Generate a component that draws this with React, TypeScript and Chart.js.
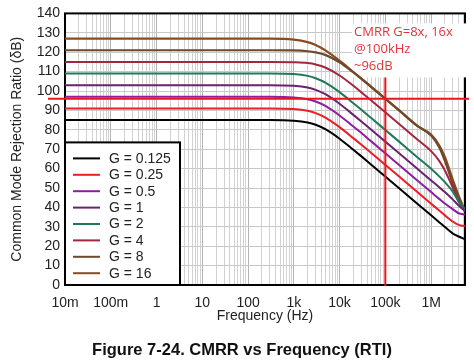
import React, { useEffect, useRef } from "react";
import { Chart, registerables } from "chart.js";
Chart.register(...registerables);

// ---------- data ----------
const FREQ = [0.01, 0.1, 1, 10, 100, 300, 1000, 2000, 3000, 5000, 10000, 20000, 30000, 50000, 100000, 200000, 500000, 1000000, 1500000, 2000000, 3000000, 4000000, 5500000];

const G_0125 = [85, 85, 85, 85, 85, 85, 84.7, 83.8, 82.6, 80.2, 75.4, 69.7, 66.3, 61.9, 55.9, 49.9, 41.9, 35.9, 32.4, 29.9, 26.5, 25, 23.5];
const G_025 = [91, 91, 91, 91, 91, 91, 90.7, 89.8, 88.6, 86.2, 81.4, 75.7, 72.3, 67.9, 61.9, 55.9, 47.9, 41.9, 38.4, 35.9, 32.6, 31, 30.3];
const G_05 = [97, 97, 97, 97, 97, 97, 96.7, 95.8, 94.6, 92.2, 87.4, 81.7, 78.3, 73.9, 67.9, 61.9, 53.9, 47.9, 44.4, 42, 39, 37, 36.3];
const G_1 = [103, 103, 103, 103, 103, 103, 102.7, 101.8, 100.6, 98.2, 93.4, 87.7, 84.3, 79.9, 73.9, 67.9, 59.9, 53.9, 50.4, 47.9, 44, 41, 38];
const G_2 = [109, 109, 109, 109, 109, 109, 108.7, 107.8, 106.6, 104.2, 99.4, 93.7, 90.3, 85.9, 79.9, 73.9, 65.9, 59.9, 56, 53, 48, 43, 39];
const G_4 = [115, 115, 115, 115, 115, 115, 114.8, 114.4, 113.7, 112, 108, 102.7, 99.3, 95, 89, 83, 75, 69, 64, 59, 50, 43, 38];
const G_8 = [121, 121, 121, 121, 121, 121, 120.9, 120.5, 119.9, 118.5, 114.8, 109.6, 106.3, 101.9, 96, 90, 82, 77, 71, 64, 52, 45, 38];
const G_16 = [127, 127, 127, 127, 127, 127, 126.5, 125.2, 123.7, 120.8, 115.6, 109.8, 106.4, 102, 96, 90, 82, 77.5, 72, 66, 54, 46, 38];

const SERIES = [G_0125, G_025, G_05, G_1, G_2, G_4, G_8, G_16];
const SERIES_LABELS = ["G = 0.125", "G = 0.25", "G = 0.5", "G = 1", "G = 2", "G = 4", "G = 8", "G = 16"];
const SERIES_COLORS = ["#000000", "#ee1c25", "#8e1e9e", "#6a2270", "#1f7a5c", "#a3263f", "#6e4a2a", "#8a4b22"];

const X_TICK_VALUES = [0.01, 0.1, 1, 10, 100, 1000, 10000, 100000, 1000000];
const X_TICK_LABELS = ["10m", "100m", "1", "10", "100", "1k", "10k", "100k", "1M"];
const X_MIN = 0.01;
const X_MAX = 5500000;
const Y_MIN = 0;
const Y_MAX = 140;
const Y_STEP = 10;

const CURSOR_FREQ = 100000;
const CURSOR_DB = 96;
const NOTE_LINES = ["CMRR G=8x, 16x", "@100kHz", "~96dB"];
const Y_TITLE = "Common Mode Rejection Ratio (δB)";
const X_TITLE = "Frequency (Hz)";
const CAPTION = "Figure 7-24. CMRR vs Frequency (RTI)";

const FONT = "'Liberation Sans', Arial, sans-serif";
const RED = "#e8161e";

function isNear(a: number, b: number) {
  return Math.abs(a - b) <= Math.abs(b) * 1e-6;
}

export default function App() {
  const ref = useRef<HTMLCanvasElement | null>(null);

  useEffect(() => {
    const canvas = ref.current;
    if (!canvas) return;

    const overlay = {
      id: "overlay",
      beforeDatasetsDraw(chart: any) {
        const { ctx, chartArea: a } = chart;
        ctx.save();
        ctx.strokeStyle = "#000";
        ctx.lineWidth = 2;
        ctx.strokeRect(a.left, a.top, a.right - a.left, a.bottom - a.top);
        ctx.fillStyle = "#fff";
        ctx.fillRect(a.right - 113, a.top + 10, 117, 54);
        ctx.restore();
      },
      afterDatasetsDraw(chart: any) {
        const { ctx, chartArea: a, scales } = chart;
        const xs = scales.x;
        const ys = scales.y;
        ctx.save();
        const cx = xs.getPixelForValue(CURSOR_FREQ);
        const cy = ys.getPixelForValue(CURSOR_DB);
        ctx.strokeStyle = RED;
        ctx.lineWidth = 2;
        ctx.beginPath();
        ctx.moveTo(a.left - 17, cy);
        ctx.lineTo(a.right + 4, cy);
        ctx.moveTo(cx, a.top + 64);
        ctx.lineTo(cx, a.bottom + 1);
        ctx.stroke();

        ctx.fillStyle = "#e6333b";
        ctx.font = "13px 'Open Sans', 'Noto Sans', sans-serif";
        ctx.textAlign = "left";
        ctx.textBaseline = "middle";
        NOTE_LINES.forEach((t, i) => {
          ctx.fillText(t, a.right - 111, a.top + 19 + i * 17);
        });

        const lx = a.left;
        const ly = a.top + 129;
        const lw = 115;
        const lh = a.bottom - ly;
        ctx.fillStyle = "#fff";
        ctx.fillRect(lx, ly, lw, lh);
        ctx.strokeStyle = "#000";
        ctx.lineWidth = 2;
        ctx.strokeRect(lx, ly, lw, lh);
        ctx.font = `14px ${FONT}`;
        ctx.textBaseline = "middle";
        chart.data.datasets.forEach((ds: any, i: number) => {
          const y = ly + 16 + i * 16.4;
          ctx.strokeStyle = ds.borderColor;
          ctx.lineWidth = 2;
          ctx.beginPath();
          ctx.moveTo(lx + 8, y);
          ctx.lineTo(lx + 35, y);
          ctx.stroke();
          ctx.fillStyle = "#222";
          ctx.fillText(ds.label, lx + 44, y + 0.5);
        });

        ctx.fillStyle = "#111";
        ctx.font = `bold 16.5px ${FONT}`;
        ctx.textAlign = "center";
        ctx.textBaseline = "middle";
        ctx.fillText(CAPTION, 242, 350);
        ctx.restore();
      },
    };

    const chart = new Chart(canvas, {
      type: "line",
      data: {
        datasets: SERIES.map((vals, i) => ({
          label: SERIES_LABELS[i],
          data: FREQ.map((f, j) => ({ x: f, y: vals[j] })),
          borderColor: SERIES_COLORS[i],
          backgroundColor: SERIES_COLORS[i],
          borderWidth: i >= 6 ? 2.2 : 2,
          pointRadius: 0,
          fill: false,
          cubicInterpolationMode: "monotone",
        })),
      },
      options: {
        animation: false,
        responsive: false,
        devicePixelRatio: 1,
        layout: { padding: { left: 0, right: 9, top: 8, bottom: 36 } },
        plugins: {
          legend: { display: false },
          tooltip: { enabled: false },
          title: { display: false },
        },
        scales: {
          x: {
            type: "logarithmic",
            min: X_MIN,
            max: X_MAX,
            afterBuildTicks(scale: any) {
              const t: any[] = [];
              for (let e = -2; e <= 6; e++) {
                for (let m = 1; m <= 9; m++) {
                  const v = parseFloat((m * Math.pow(10, e)).toPrecision(6));
                  if (v >= X_MIN && v <= X_MAX) t.push({ value: v });
                }
              }
              scale.ticks = t;
            },
            afterFit(scale: any) {
              scale.height = 40;
            },
            ticks: {
              autoSkip: false,
              maxRotation: 0,
              padding: 10,
              color: "#222",
              font: { family: FONT, size: 14 },
              callback(value: any) {
                const idx = X_TICK_VALUES.findIndex((d) => isNear(Number(value), d));
                return idx >= 0 ? X_TICK_LABELS[idx] : "";
              },
            },
            grid: {
              drawTicks: false,
              color(c: any) {
                const v = c.tick ? c.tick.value : 0;
                return X_TICK_VALUES.some((d) => isNear(v, d)) ? "#b4b4b4" : "#d2d2d2";
              },
              lineWidth: 1,
            },
            border: { display: false },
            title: {
              display: true,
              text: X_TITLE,
              color: "#222",
              font: { family: FONT, size: 14 },
              padding: { top: 0, bottom: 0 },
            },
          },
          y: {
            min: Y_MIN,
            max: Y_MAX,
            afterFit(scale: any) {
              scale.width = 65;
            },
            ticks: {
              stepSize: Y_STEP,
              autoSkip: false,
              padding: 5,
              color: "#222",
              font: { family: FONT, size: 14 },
            },
            grid: { drawTicks: false, color: "#c8c8c8", lineWidth: 1 },
            border: { display: false },
            title: {
              display: true,
              text: Y_TITLE,
              color: "#222",
              font: { family: FONT, size: 14 },
              padding: { top: 9, bottom: 0 },
            },
          },
        },
      },
      plugins: [overlay],
    } as any);

    return () => chart.destroy();
  }, []);

  return (
    <div style={{ position: "absolute", left: 0, top: 0, width: 474, height: 361, background: "#fff" }}>
      <canvas ref={ref} width={474} height={361} style={{ width: 474, height: 361, display: "block" }} />
    </div>
  );
}
